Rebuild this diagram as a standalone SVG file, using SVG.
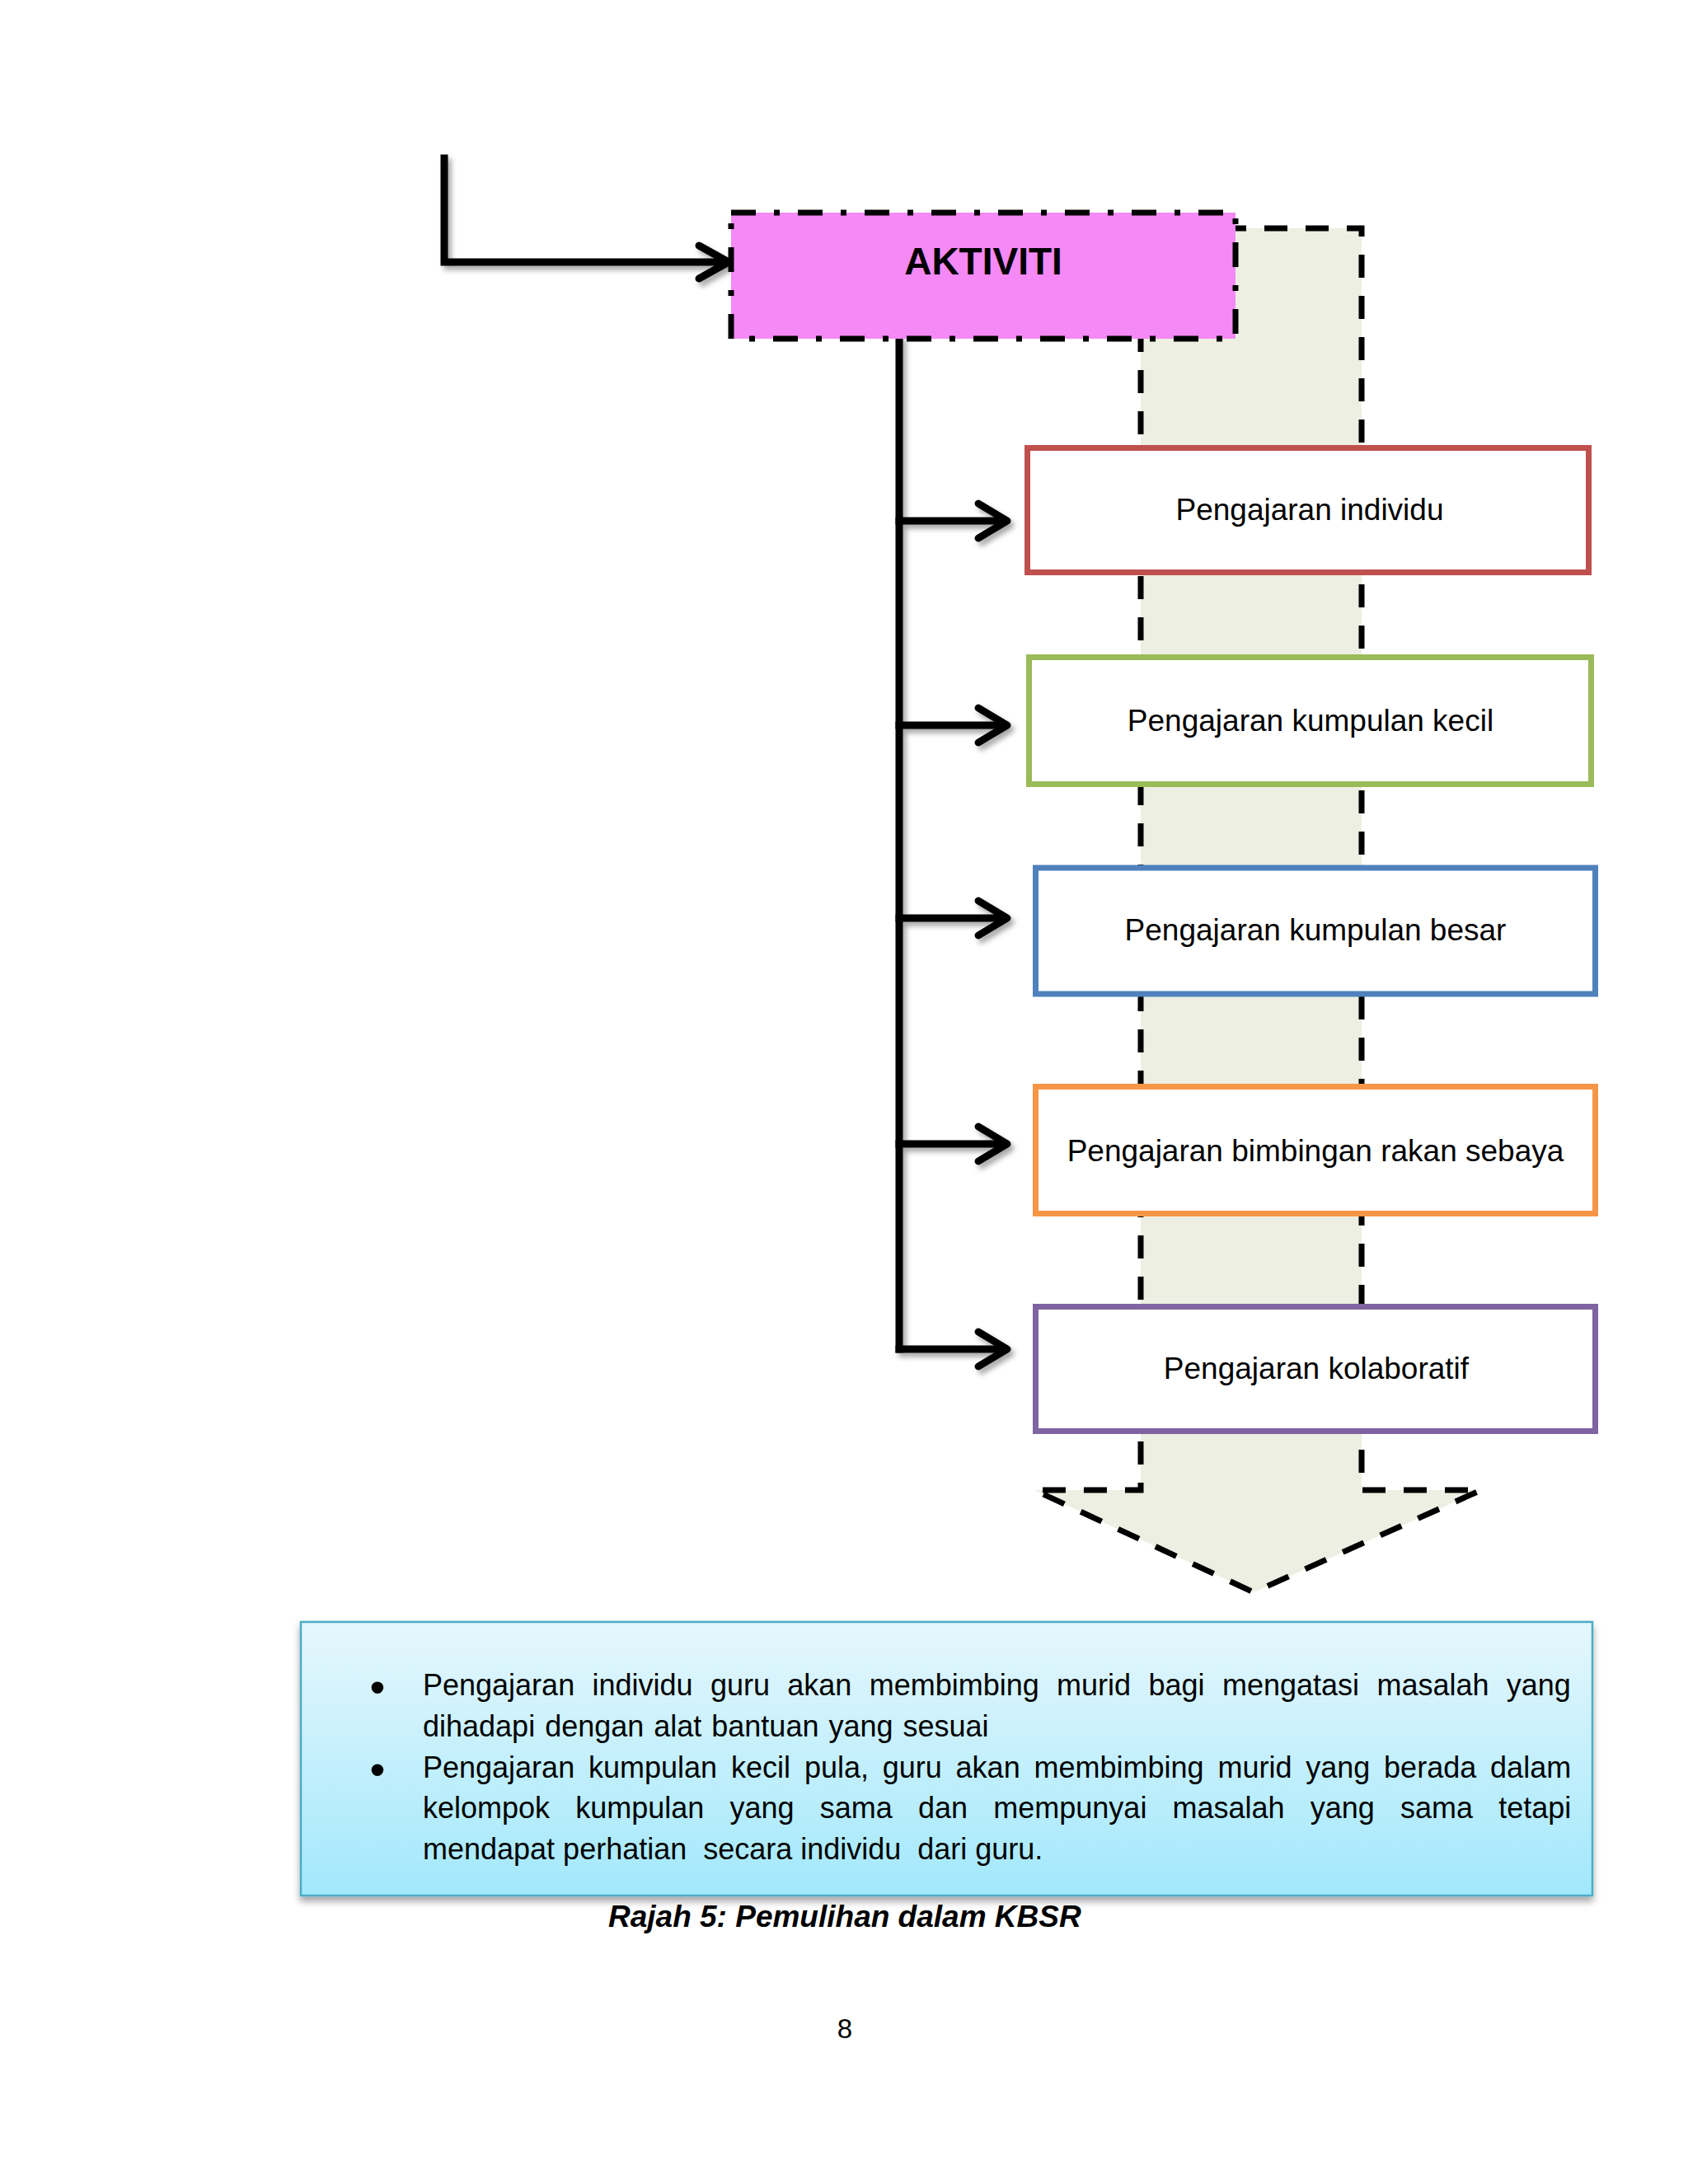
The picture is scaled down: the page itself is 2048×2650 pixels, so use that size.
<svg xmlns="http://www.w3.org/2000/svg" width="2048" height="2650" viewBox="0 0 2048 2650">
<defs>
<filter id="sh" x="-20%" y="-20%" width="140%" height="140%">
<feDropShadow dx="4" dy="5" stdDeviation="3" flood-color="#000" flood-opacity="0.35"/>
</filter>
<filter id="bsh" x="-5%" y="-5%" width="110%" height="115%">
<feDropShadow dx="0" dy="6" stdDeviation="4" flood-color="#000" flood-opacity="0.35"/>
</filter>
<linearGradient id="bg" x1="0" y1="0" x2="0" y2="1">
<stop offset="0" stop-color="#E6F7FC"/>
<stop offset="1" stop-color="#A2E8FC"/>
</linearGradient>
</defs>
<style>
.box{fill:#FFFFFF;stroke-width:7}
.lbl{font-family:"Liberation Sans",Arial,sans-serif;font-size:37px;fill:#000;text-anchor:middle}
.ln{fill:none;stroke:#000;stroke-width:9;stroke-linecap:square;stroke-linejoin:miter}
.hd{fill:none;stroke:#000;stroke-width:9;stroke-linecap:round;stroke-linejoin:round}
.body{font-family:"Liberation Sans",Arial,sans-serif;font-size:36px;fill:#000}
.bul{font-family:"Liberation Sans",Arial,sans-serif;font-size:54px;fill:#000;text-anchor:middle}
</style>
<rect width="2048" height="2650" fill="#FFFFFF"/>

<g id="big-arrow">
<polygon points="1384,277 1652,277 1652,1808 1797,1808 1521,1932 1255,1808 1384,1808" fill="#ECEFE1" stroke="#000" stroke-width="7" stroke-dasharray="28 22"/>
</g>

<g id="connectors" filter="url(#sh)">
<path class="ln" d="M539,192 V318 H880"/>
<path class="hd" d="M848,298 L884,318 L848,338"/>
<path class="ln" d="M1091,411 V1637"/>
<path class="ln" d="M1091,632 H1218"/>
<path class="hd" d="M1187,611 L1222,632 L1187,653"/>
<path class="ln" d="M1091,880 H1218"/>
<path class="hd" d="M1187,859 L1222,880 L1187,901"/>
<path class="ln" d="M1091,1114 H1218"/>
<path class="hd" d="M1187,1093 L1222,1114 L1187,1135"/>
<path class="ln" d="M1091,1388 H1218"/>
<path class="hd" d="M1187,1367 L1222,1388 L1187,1409"/>
<path class="ln" d="M1091,1637 H1218"/>
<path class="hd" d="M1187,1616 L1222,1637 L1187,1658"/>
</g>

<g id="aktiviti">
<rect x="887" y="258" width="612" height="153" fill="#F589F5" stroke="#000" stroke-width="7" stroke-dasharray="30 22 7 22"/>
<text x="1193" y="333" font-family="Liberation Sans,Arial,sans-serif" font-size="46" font-weight="bold" text-anchor="middle">AKTIVITI</text>
</g>

<g id="individu">
<rect class="box" x="1246.5" y="543.5" width="681" height="151" stroke="#C0504D"/>
<text class="lbl" x="1589" y="631">Pengajaran individu</text>
</g>
<g id="kumpulan-kecil">
<rect class="box" x="1248.5" y="797.5" width="682" height="154" stroke="#9BBB59"/>
<text class="lbl" x="1590" y="887">Pengajaran kumpulan kecil</text>
</g>
<g id="kumpulan-besar">
<rect class="box" x="1256.5" y="1053" width="679" height="153" stroke="#4F81BD"/>
<text class="lbl" x="1596" y="1141">Pengajaran kumpulan besar</text>
</g>
<g id="rakan-sebaya">
<rect class="box" x="1256.5" y="1318.5" width="679" height="154" stroke="#F79646"/>
<text class="lbl" x="1596" y="1409">Pengajaran bimbingan rakan sebaya</text>
</g>
<g id="kolaboratif">
<rect class="box" x="1256.5" y="1585.5" width="679" height="151" stroke="#8064A2"/>
<text class="lbl" x="1597" y="1673">Pengajaran kolaboratif</text>
</g>

<g id="note">
<rect x="365" y="1968" width="1567" height="332" fill="url(#bg)" stroke="#4BACC6" stroke-width="2.5" filter="url(#bsh)"/>
<text class="bul" x="458" y="2066">•</text>
<text class="body" y="2057"><tspan x="513">Pengajaran</tspan><tspan x="718.5">individu</tspan><tspan x="861.9">guru</tspan><tspan x="955.3">akan</tspan><tspan x="1054.7">membimbing</tspan><tspan x="1282.1">murid</tspan><tspan x="1393.5">bagi</tspan><tspan x="1482.9">mengatasi</tspan><tspan x="1670.4">masalah</tspan><tspan x="1827.8">yang</tspan></text>
<text class="body" x="513" y="2107" word-spacing="2">dihadapi dengan alat bantuan yang sesuai</text>
<text class="bul" x="458" y="2166">•</text>
<text class="body" y="2157"><tspan x="513">Pengajaran</tspan><tspan x="714.0">kumpulan</tspan><tspan x="887.0">kecil</tspan><tspan x="975.9">pula,</tspan><tspan x="1070.8">guru</tspan><tspan x="1159.6">akan</tspan><tspan x="1254.5">membimbing</tspan><tspan x="1477.4">murid</tspan><tspan x="1584.2">yang</tspan><tspan x="1679.1">berada</tspan><tspan x="1808.1">dalam</tspan></text>
<text class="body" y="2206"><tspan x="513">kelompok</tspan><tspan x="698.2">kumpulan</tspan><tspan x="885.5">yang</tspan><tspan x="994.8">sama</tspan><tspan x="1114.0">dan</tspan><tspan x="1205.3">mempunyai</tspan><tspan x="1422.5">masalah</tspan><tspan x="1589.8">yang</tspan><tspan x="1699.0">sama</tspan><tspan x="1818.2">tetapi</tspan></text>
<text class="body" y="2256"><tspan x="513">mendapat perhatian</tspan><tspan x="853.2">secara individu</tspan><tspan x="1113.2">dari guru.</tspan></text>
</g>

<g id="caption">
<text x="738" y="2338" font-family="Liberation Sans,Arial,sans-serif" font-size="37" font-weight="bold" font-style="italic">Rajah 5: Pemulihan dalam KBSR</text>
</g>
<g id="page-number">
<text x="1025" y="2473" font-family="Liberation Sans,Arial,sans-serif" font-size="33" text-anchor="middle">8</text>
</g>
</svg>
